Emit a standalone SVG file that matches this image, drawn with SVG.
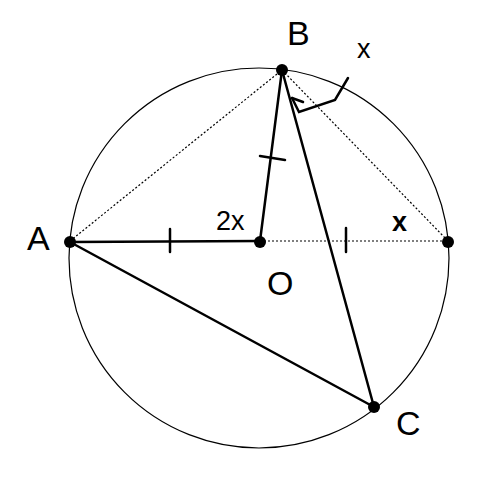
<svg xmlns="http://www.w3.org/2000/svg" width="484" height="483" viewBox="0 0 484 483">
<style>
.solid{stroke:#000;stroke-width:2.5;fill:none;stroke-linecap:round}
.dot{stroke:#000;stroke-width:1.2;stroke-dasharray:2 2;fill:none}
.pt{fill:#000}
.cap{font-family:"Liberation Sans",Arial,sans-serif;font-size:34px;fill:#000}
.low{font-family:"Liberation Sans",Arial,sans-serif;font-size:27px;fill:#000}
</style>
<rect width="484" height="483" fill="#fff"/>
<g id="circle"><circle cx="259" cy="258" r="190" fill="none" stroke="#000" stroke-width="1.2"/></g>
<g id="connectors">
<line class="dot" x1="70" y1="241" x2="282" y2="70"/>
<line class="dot" x1="282" y1="70" x2="448" y2="241"/>
<line class="dot" x1="260" y1="241" x2="448" y2="241"/>
<line class="solid" x1="70" y1="242" x2="260" y2="241"/>
<line class="solid" x1="260" y1="241" x2="282" y2="70"/>
<line class="solid" x1="282" y1="70" x2="374" y2="407"/>
<line class="solid" x1="70" y1="242" x2="374" y2="407"/>
<line class="solid" x1="170" y1="229" x2="170" y2="252"/>
<line class="solid" x1="260" y1="156" x2="285" y2="160"/>
<line class="solid" x1="346" y1="228" x2="346" y2="252"/>
<polyline class="solid" points="348,78 335,100 299,112 292,98"/>
<line class="solid" x1="292" y1="98" x2="303" y2="102"/>
</g>
<g id="A"><circle class="pt" cx="70" cy="242" r="6"/><text class="cap" x="27" y="250">A</text></g>
<g id="B"><circle class="pt" cx="282" cy="70" r="6"/><text class="cap" x="287" y="45">B</text></g>
<g id="O"><circle class="pt" cx="260" cy="242" r="6"/><text class="cap" x="267" y="295">O</text></g>
<g id="D"><circle class="pt" cx="448" cy="242" r="6"/></g>
<g id="C"><circle class="pt" cx="374" cy="407" r="6"/><text class="cap" x="396" y="435">C</text></g>
<g id="labels">
<text class="low" x="357" y="58">x</text>
<text class="low" x="216" y="230">2x</text>
<text class="low" x="392" y="231" font-weight="bold">x</text>
</g>
</svg>
